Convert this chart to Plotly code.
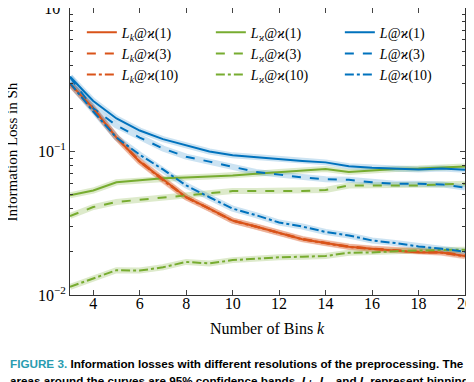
import plotly.graph_objects as go

k = list(range(3, 21))

# L_k series (orange)
lk_1 = [0.297, 0.200, 0.125, 0.085, 0.064, 0.048, 0.040, 0.033, 0.030, 0.027, 0.0245, 0.023, 0.0217, 0.0210, 0.0205, 0.0198, 0.0198, 0.0187]
lk_3 = [0.296, 0.199, 0.126, 0.086, 0.064, 0.048, 0.040, 0.033, 0.030, 0.0272, 0.0246, 0.0231, 0.0218, 0.0211, 0.0206, 0.0200, 0.0199, 0.0189]
lk_10 = [0.295, 0.198, 0.125, 0.085, 0.063, 0.0478, 0.0398, 0.0329, 0.0299, 0.0269, 0.0244, 0.0229, 0.0216, 0.0209, 0.0204, 0.0199, 0.0197, 0.0186]

# L_varkappa series (green)
lx_1 = [0.0495, 0.0535, 0.061, 0.063, 0.065, 0.066, 0.067, 0.068, 0.070, 0.072, 0.074, 0.0755, 0.072, 0.074, 0.0755, 0.076, 0.077, 0.0785]
lx_3 = [0.0355, 0.041, 0.0445, 0.046, 0.048, 0.0495, 0.051, 0.053, 0.053, 0.053, 0.053, 0.054, 0.058, 0.058, 0.058, 0.058, 0.059, 0.0597]
lx_10 = [0.0114, 0.0131, 0.0149, 0.0148, 0.0156, 0.0170, 0.0166, 0.0175, 0.0180, 0.0183, 0.0185, 0.0187, 0.0197, 0.0198, 0.0202, 0.0205, 0.0206, 0.0207]

# L series (blue)
l_1 = [0.332, 0.225, 0.170, 0.140, 0.122, 0.110, 0.100, 0.094, 0.091, 0.088, 0.086, 0.084, 0.079, 0.077, 0.076, 0.075, 0.076, 0.0745]
l_3 = [0.330, 0.200, 0.152, 0.125, 0.105, 0.092, 0.085, 0.078, 0.072, 0.069, 0.066, 0.064, 0.0635, 0.061, 0.0595, 0.0597, 0.059, 0.056]
l_10 = [0.300, 0.190, 0.125, 0.095, 0.075, 0.058, 0.048, 0.040, 0.036, 0.032, 0.030, 0.0275, 0.026, 0.024, 0.023, 0.0218, 0.021, 0.020]

x_ticks = [4, 6, 8, 10, 12, 14, 16, 18, 20]
y_ticks = [1, 0.1, 0.01]
y_tick_text = ["10<sup>0</sup>", "10<sup>−1</sup>", "10<sup>−2</sup>"]
y_minor = [0.02, 0.03, 0.04, 0.05, 0.06, 0.07, 0.08, 0.09,
           0.2, 0.3, 0.4, 0.5, 0.6, 0.7, 0.8, 0.9]

ORANGE = "#D95319"
GREEN = "#77AC30"
BLUE = "#0072BD"
BANDS = {ORANGE: "rgba(217,83,25,0.18)", GREEN: "rgba(119,172,48,0.25)", BLUE: "rgba(0,114,189,0.2)"}

series = [
    (lk_1, ORANGE, "solid", "<i>L<sub>k</sub></i>@<i>ϰ</i>(1)"),
    (lx_1, GREEN, "solid", "<i>L<sub>ϰ</sub></i>@<i>ϰ</i>(1)"),
    (l_1, BLUE, "solid", "<i>L</i>@<i>ϰ</i>(1)"),
    (lk_3, ORANGE, "dash", "<i>L<sub>k</sub></i>@<i>ϰ</i>(3)"),
    (lx_3, GREEN, "dash", "<i>L<sub>ϰ</sub></i>@<i>ϰ</i>(3)"),
    (l_3, BLUE, "dash", "<i>L</i>@<i>ϰ</i>(3)"),
    (lk_10, ORANGE, "dashdot", "<i>L<sub>k</sub></i>@<i>ϰ</i>(10)"),
    (lx_10, GREEN, "dashdot", "<i>L<sub>ϰ</sub></i>@<i>ϰ</i>(10)"),
    (l_10, BLUE, "dashdot", "<i>L</i>@<i>ϰ</i>(10)"),
]

fig = go.Figure()
# confidence band halos
for vals, col, dash, name in series:
    fig.add_trace(go.Scatter(x=k, y=vals, mode="lines", showlegend=False, hoverinfo="skip",
                             line=dict(color=BANDS[col], width=6)))
for vals, col, dash, name in series:
    fig.add_trace(go.Scatter(x=k, y=vals, mode="lines", name=name,
                             line=dict(color=col, width=2, dash=dash)))

SERIF = "Liberation Serif, DejaVu Serif, serif"

fig.update_layout(
    width=474, height=382,
    margin=dict(l=62, r=17, t=0, b=95, autoexpand=False),
    paper_bgcolor="white", plot_bgcolor="white",
    font=dict(family=SERIF, size=16, color="black"),
    showlegend=True,
    legend=dict(orientation="h", x=0.03, y=0.97, xanchor="left", yanchor="top",
                entrywidth=84, entrywidthmode="pixels", bgcolor="rgba(0,0,0,0)",
                font=dict(family=SERIF, size=14), traceorder="normal"),
    xaxis=dict(range=[3, 20], tickvals=x_ticks, ticks="inside", ticklen=5,
               showline=True, linecolor="#333", linewidth=1, mirror="allticks",
               showgrid=False, zeroline=False, automargin=False, ticklabelstandoff=-6,
               ticklabeloverflow="allow",
               tickfont=dict(family=SERIF, size=16)),
    yaxis=dict(type="log", range=[-2, 0], tickvals=y_ticks, ticktext=y_tick_text,
               ticks="inside", ticklen=5, showline=True, linecolor="#333", linewidth=1,
               mirror="allticks", showgrid=False, zeroline=False, automargin=False,
               ticklabeloverflow="allow",
               minor=dict(tickvals=y_minor, ticks="inside", ticklen=3, tickcolor="#333", showgrid=False),
               tickfont=dict(family=SERIF, size=16)),
)

fig.add_annotation(xref="paper", yref="paper", x=0.499, y=-0.115, xanchor="center", yanchor="middle",
                   showarrow=False, text="Number of Bins <i>k</i>",
                   font=dict(family=SERIF, size=16, color="black"))
fig.add_annotation(xref="paper", yref="paper", x=-0.147, y=0.5, xanchor="center", yanchor="middle",
                   showarrow=False, textangle=-90, text="Information Loss in Sh",
                   font=dict(family=SERIF, size=15, color="black"))

fig.add_annotation(xref="paper", yref="paper", x=-0.157, y=-0.237, xanchor="left", yanchor="middle",
                   showarrow=False, align="left",
                   text="<span style='color:#2a9cb0'><b>FIGURE 3.</b></span> <b>Information losses with different resolutions of the preprocessing. The</b>",
                   font=dict(family="Liberation Sans, Arial, sans-serif", size=11.7, color="black"))
fig.add_annotation(xref="paper", yref="paper", x=-0.157, y=-0.2997, xanchor="left", yanchor="middle",
                   showarrow=False, align="left",
                   text="<b>areas around the curves are 95% confidence bands. <i>L<sub>k</sub></i>, <i>L<sub>ϰ</sub></i> and <i>L</i> represent binning</b>",
                   font=dict(family="Liberation Sans, Arial, sans-serif", size=11.7, color="black"))

fig.write_html("out.html")
